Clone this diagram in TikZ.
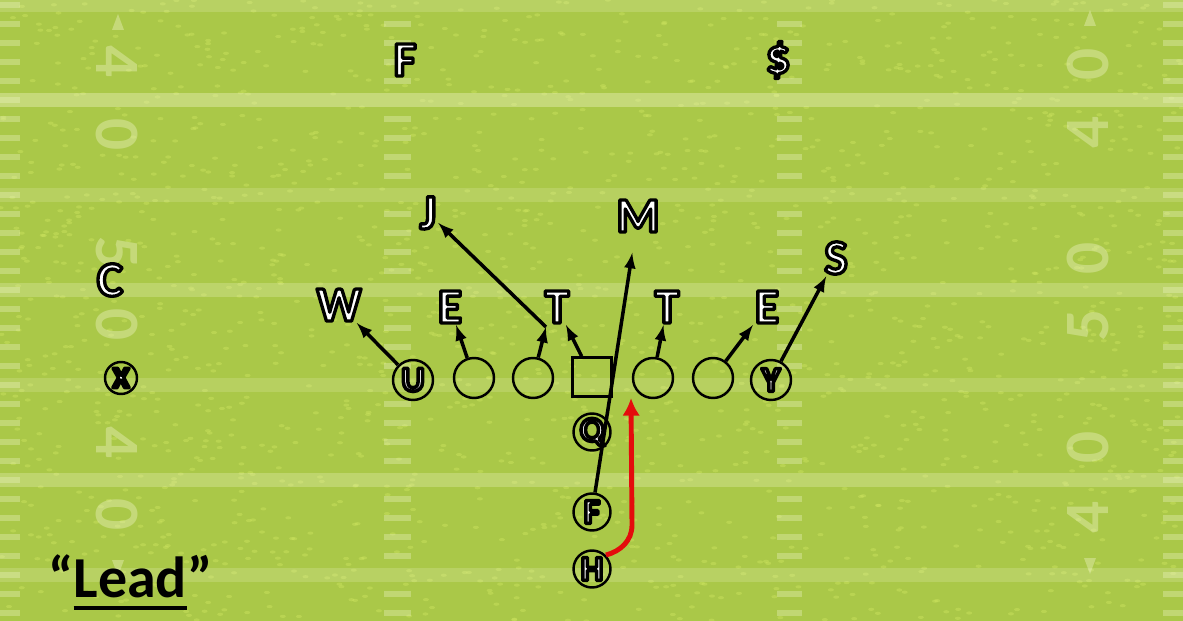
\documentclass[tikz,border=0pt]{standalone}
\usepackage{fontspec}
\setmainfont{Carlito}
\usetikzlibrary{arrows,arrows.meta}

\definecolor{turf}{RGB}{170,200,72}
\definecolor{speck}{RGB}{205,228,95}
\definecolor{chalk}{RGB}{238,244,196}
\definecolor{runred}{RGB}{228,12,12}

% white letter with black rim (fill + stroke render mode)
\newcommand{\deflabel}[1]{{\color{white}\special{pdf:literal direct 2 Tr 1.9 w 1 j 0 G}#1\special{pdf:literal direct 0 Tr}}}
% black letter with thin white core
\newcommand{\offlabel}[1]{{\color{white}\special{pdf:literal direct 2 Tr 2.0 w 1 j 0 G}#1\special{pdf:literal direct 0 Tr}}}
% thick underline
\newcommand{\playul}[1]{\setbox0\hbox{#1}\rlap{\rule[-7.2pt]{\wd0}{2.2pt}}\box0}

\begin{document}
\begin{tikzpicture}[x=0.02cm,y=-0.02cm,
    player/.style={circle, draw=black, line width=1.4pt, minimum size=0.8cm,
                   inner sep=0pt, font=\fontsize{20}{20}\selectfont\bfseries},
    backfield/.style={player, minimum size=0.74cm},
    centerbox/.style={rectangle, draw=black, line width=1.4pt, minimum size=0.78cm},
    defender/.style={inner sep=1pt, font=\fontsize{28}{28}\selectfont\bfseries},
    blockarrow/.style={-latex, line width=2pt},
    leadrun/.style={-{Latex[length=10pt,width=10pt]}, runred, line width=2.8pt},
    yardline/.style={chalk, line width=0.28cm, opacity=#1},
    hashmark/.style={chalk, line width=0.12cm, opacity=0.35},
    fieldnum/.style={text=chalk, opacity=0.4, inner sep=0pt,
                     font=\fontsize{36}{36}\selectfont\bfseries}
  ]
  % the field
  \fill[turf] (0,0) rectangle (1183,621);
  \useasboundingbox (0,0) rectangle (1183,621);
  \pgfmathsetseed{4242}
  \foreach \i in {1,...,1800} {
    \pgfmathsetmacro\sx{rnd*1183}
    \pgfmathsetmacro\sy{rnd*621}
    \fill[speck, opacity=0.45] (\sx,\sy) ellipse (3 and 1.6);
  }
  \foreach \y/\o in {5/0.22, 100/0.4, 195/0.2, 290/0.28, 385/0.2, 480/0.3, 575/0.22}
    \draw[yardline=\o] (0,\y) -- (1183,\y);
  \foreach \k in {0,...,32} {
    \pgfmathtruncatemacro\r{mod(\k,5)}
    \pgfmathsetmacro\yy{5+19*\k}
    \ifnum\r=0 \else
      \draw[hashmark] (384,\yy) -- (411,\yy);
      \draw[hashmark] (777,\yy) -- (802,\yy);
    \fi
    \draw[hashmark] (0,\yy) -- (20,\yy);
    \draw[hashmark] (1163,\yy) -- (1183,\yy);
  }
  % yard numbers
  \node[fieldnum, rotate=-90] (nLa) at (117,62) {4};
  \node[fieldnum, rotate=-90] (nLb) at (117,135) {0};
  \node[fieldnum, rotate=-90] (nLc) at (117,253) {5};
  \node[fieldnum, rotate=-90] (nLd) at (117,325) {0};
  \node[fieldnum, rotate=-90] (nLe) at (117,443) {4};
  \node[fieldnum, rotate=-90] (nLf) at (117,515) {0};
  \node[fieldnum, rotate=90] (nRa) at (1088,64) {0};
  \node[fieldnum, rotate=90] (nRb) at (1088,132) {4};
  \node[fieldnum, rotate=90] (nRc) at (1088,258) {0};
  \node[fieldnum, rotate=90] (nRd) at (1088,325) {5};
  \node[fieldnum, rotate=90] (nRe) at (1088,447) {0};
  \node[fieldnum, rotate=90] (nRf) at (1088,517) {4};
  \fill[chalk, opacity=0.4] (112,30) -- (124,30) -- (118,14) -- cycle;
  \fill[chalk, opacity=0.4] (112,560) -- (124,560) -- (118,576) -- cycle;
  \fill[chalk, opacity=0.4] (1084,26) -- (1096,26) -- (1090,10) -- cycle;
  \fill[chalk, opacity=0.4] (1084,558) -- (1096,558) -- (1090,574) -- cycle;

  % offense
  \node[player, minimum size=0.64cm, font=\fontsize{17}{17}\selectfont\bfseries] (X) at (121,378) {\offlabel{X}};
  \node[player] (U) at (413,380) {\offlabel{U}};
  \node[player] (lt) at (474,378) {};
  \node[player] (lg) at (533,378) {};
  \node[centerbox] (ctr) at (592,377) {};
  \node[player] (rg) at (653,378) {};
  \node[player] (rt) at (713,378) {};
  \node[player] (Y) at (771,380) {\offlabel{Y}};
  \node[backfield] (qb) at (592,432) {\offlabel{Q}};
  \node[backfield] (fb) at (592,512) {\offlabel{F}};
  \node[backfield] (hb) at (592,569) {\offlabel{H}};

  % defense
  \node[defender] (dF) at (405,60) {\deflabel{F}};
  \node[defender] (dD) at (778,60) {\deflabel{\$}};
  \node[defender] (dJ) at (428,213) {\deflabel{J}};
  \node[defender] (dM) at (638,216) {\deflabel{M}};
  \node[defender] (dC) at (110,280) {\deflabel{C}};
  \node[defender] (dS) at (836,258) {\deflabel{S}};
  \node[defender] (dW) at (339,305) {\deflabel{W}};
  \node[defender] (dE1) at (450,307) {\deflabel{E}};
  \node[defender] (dT1) at (557,307) {\deflabel{T}};
  \node[defender] (dT2) at (667,307) {\deflabel{T}};
  \node[defender] (dE2) at (767,307) {\deflabel{E}};

  % blocks
  \coordinate (climb) at (546,327);
  \draw[blockarrow] (U) -- (dW);
  \draw[blockarrow] (lt) -- (dE1);
  \draw[blockarrow] (lg) -- (climb);
  \draw[blockarrow] (climb) -- (dJ);
  \draw[blockarrow] (ctr) -- (dT1);
  \draw[blockarrow] (rg) -- (dT2);
  \draw[blockarrow] (rt) -- (dE2.south west);
  \draw[blockarrow] (Y) -- (dS);
  \draw[blockarrow, shorten >=0.38cm] (fb) -- (dM);

  % ball carrier
  \coordinate (turnup) at (632,525);
  \coordinate (hole) at (631,398);
  \draw[leadrun] (hb.45) to[out=15,in=-90] (turnup) -- (hole);

  \node[anchor=base west, inner sep=0pt, font=\fontsize{33}{33}\selectfont\bfseries]
    (playname) at (48,597) {“\playul{Lead}”};
\end{tikzpicture}
\end{document}
